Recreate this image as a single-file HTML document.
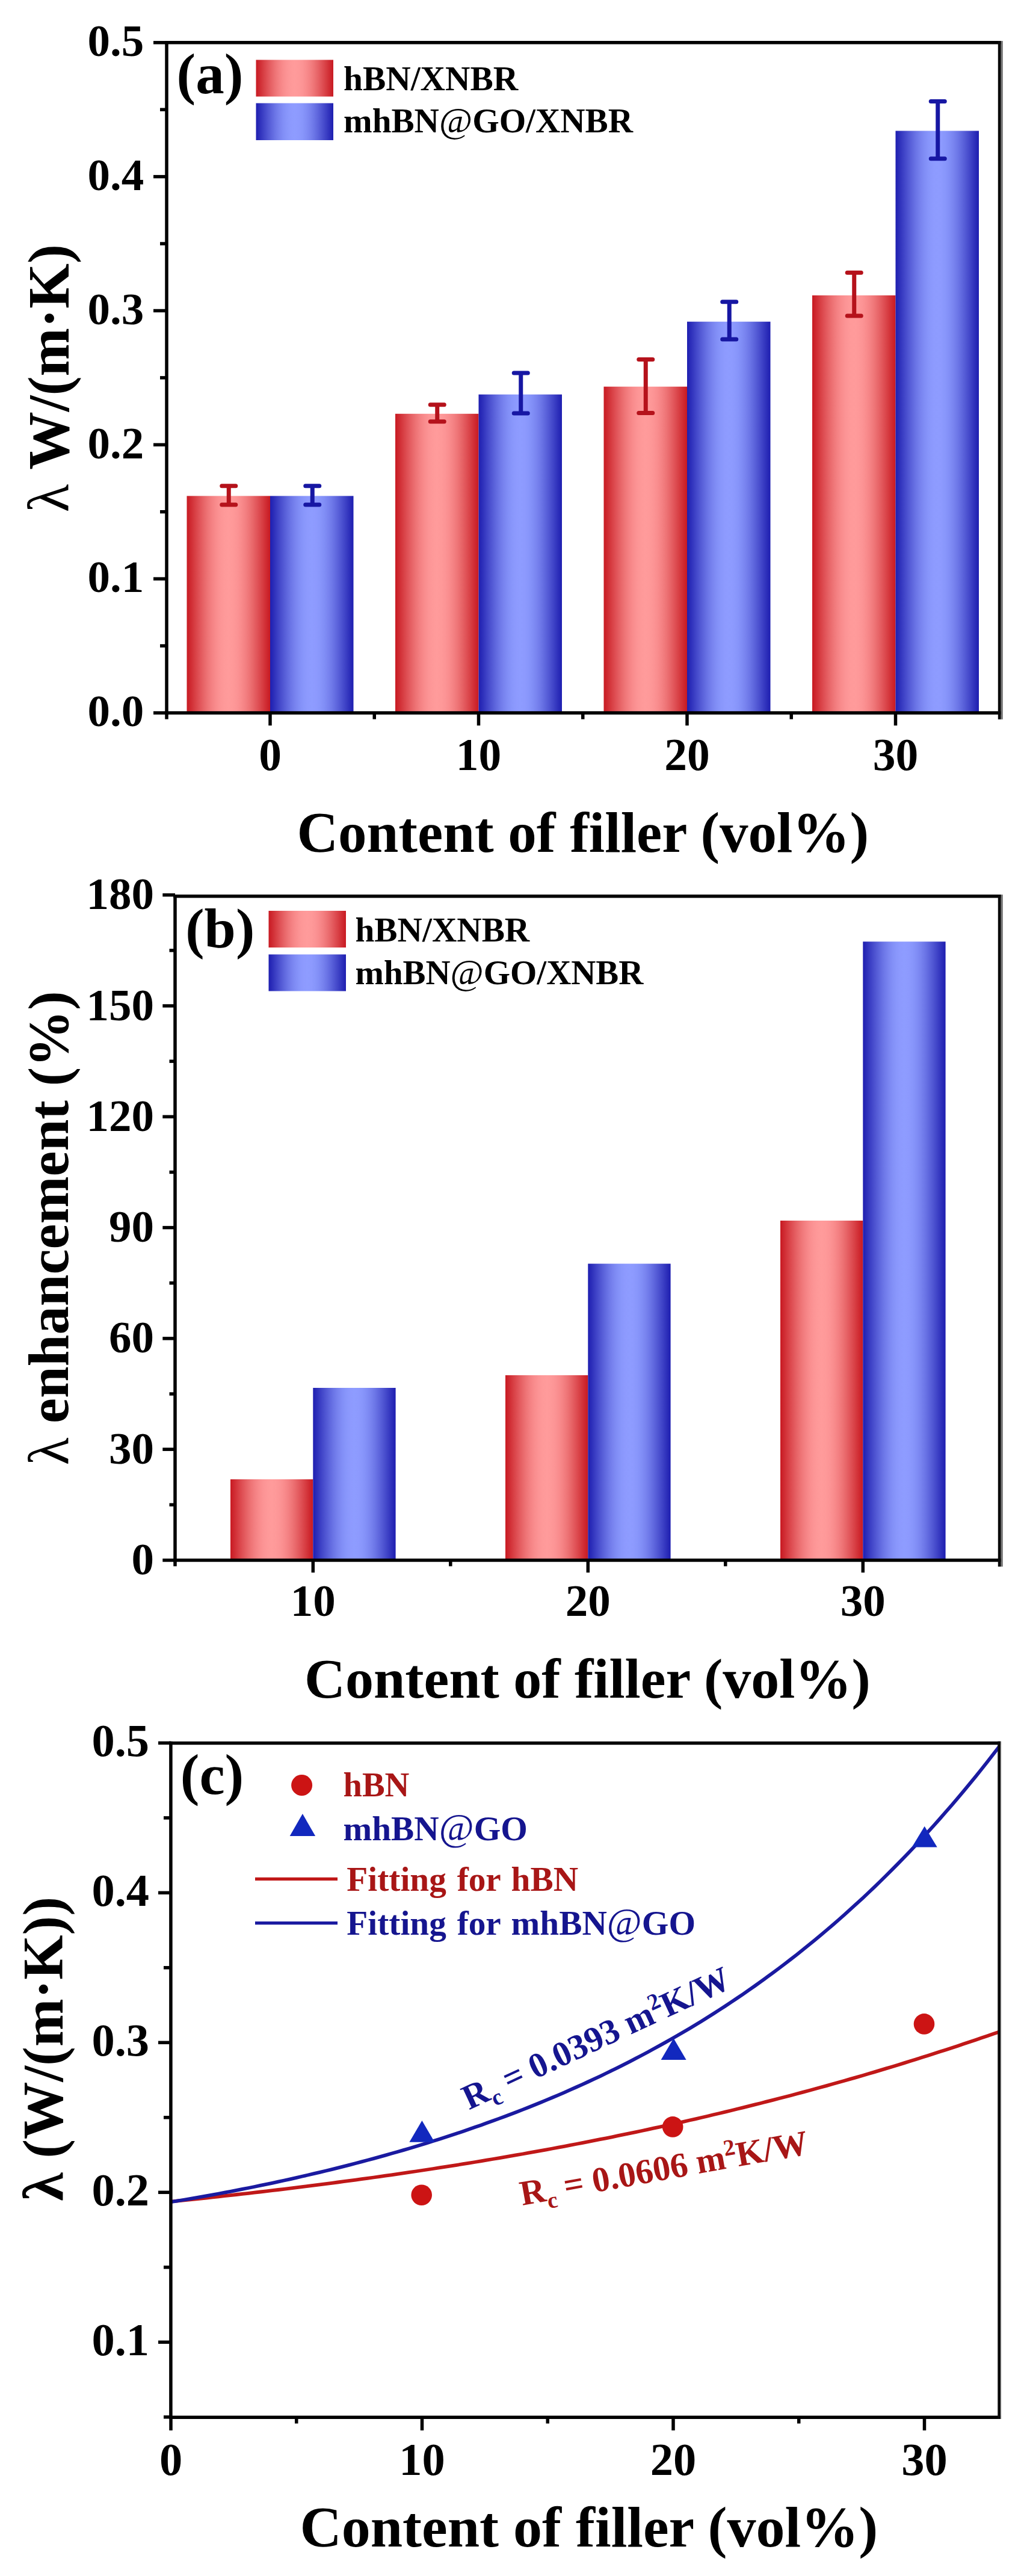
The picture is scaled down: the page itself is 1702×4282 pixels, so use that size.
<!DOCTYPE html>
<html><head><meta charset="utf-8"><title>Figure</title>
<style>html,body{margin:0;padding:0;background:#fff}svg{display:block}text{font-family:"Liberation Serif",serif;font-weight:bold}</style>
</head><body>
<svg width="1702" height="4282" viewBox="0 0 1702 4282">
<rect width="1702" height="4282" fill="#fff"/>
<defs>
<linearGradient id="gr" x1="0" x2="1" y1="0" y2="0"><stop offset="0.00" stop-color="rgb(200,26,34)"/><stop offset="0.05" stop-color="rgb(208,44,51)"/><stop offset="0.10" stop-color="rgb(216,64,69)"/><stop offset="0.15" stop-color="rgb(224,82,87)"/><stop offset="0.20" stop-color="rgb(231,100,103)"/><stop offset="0.25" stop-color="rgb(238,116,118)"/><stop offset="0.30" stop-color="rgb(244,129,131)"/><stop offset="0.35" stop-color="rgb(249,140,141)"/><stop offset="0.40" stop-color="rgb(252,148,149)"/><stop offset="0.45" stop-color="rgb(254,153,153)"/><stop offset="0.50" stop-color="rgb(255,155,155)"/><stop offset="0.55" stop-color="rgb(254,153,153)"/><stop offset="0.60" stop-color="rgb(252,148,149)"/><stop offset="0.65" stop-color="rgb(249,140,141)"/><stop offset="0.70" stop-color="rgb(244,129,131)"/><stop offset="0.75" stop-color="rgb(238,116,118)"/><stop offset="0.80" stop-color="rgb(231,100,103)"/><stop offset="0.85" stop-color="rgb(224,82,87)"/><stop offset="0.90" stop-color="rgb(216,64,69)"/><stop offset="0.95" stop-color="rgb(208,44,51)"/><stop offset="1.00" stop-color="rgb(200,26,34)"/></linearGradient>
<linearGradient id="gb" x1="0" x2="1" y1="0" y2="0"><stop offset="0.00" stop-color="rgb(30,30,176)"/><stop offset="0.05" stop-color="rgb(46,48,187)"/><stop offset="0.10" stop-color="rgb(63,67,199)"/><stop offset="0.15" stop-color="rgb(79,85,210)"/><stop offset="0.20" stop-color="rgb(94,102,221)"/><stop offset="0.25" stop-color="rgb(108,118,231)"/><stop offset="0.30" stop-color="rgb(120,131,239)"/><stop offset="0.35" stop-color="rgb(129,142,246)"/><stop offset="0.40" stop-color="rgb(136,150,251)"/><stop offset="0.45" stop-color="rgb(141,154,254)"/><stop offset="0.50" stop-color="rgb(142,156,255)"/><stop offset="0.55" stop-color="rgb(141,154,254)"/><stop offset="0.60" stop-color="rgb(136,150,251)"/><stop offset="0.65" stop-color="rgb(129,142,246)"/><stop offset="0.70" stop-color="rgb(120,131,239)"/><stop offset="0.75" stop-color="rgb(108,118,231)"/><stop offset="0.80" stop-color="rgb(94,102,221)"/><stop offset="0.85" stop-color="rgb(79,85,210)"/><stop offset="0.90" stop-color="rgb(63,67,199)"/><stop offset="0.95" stop-color="rgb(46,48,187)"/><stop offset="1.00" stop-color="rgb(30,30,176)"/></linearGradient>
</defs>
<rect x="310.5" y="824.4" width="138.5" height="360.6" fill="url(#gr)"/>
<rect x="449.0" y="824.4" width="138.5" height="360.6" fill="url(#gb)"/>
<line x1="380.25" y1="807.8" x2="380.25" y2="839.1" stroke="#b5121b" stroke-width="7" stroke-linecap="butt"/>
<line x1="368.75" y1="807.8" x2="391.75" y2="807.8" stroke="#b5121b" stroke-width="7" stroke-linecap="round"/>
<line x1="368.75" y1="839.1" x2="391.75" y2="839.1" stroke="#b5121b" stroke-width="7" stroke-linecap="round"/>
<line x1="519.25" y1="807.8" x2="519.25" y2="839.1" stroke="#1717a3" stroke-width="7" stroke-linecap="butt"/>
<line x1="507.75" y1="807.8" x2="530.75" y2="807.8" stroke="#1717a3" stroke-width="7" stroke-linecap="round"/>
<line x1="507.75" y1="839.1" x2="530.75" y2="839.1" stroke="#1717a3" stroke-width="7" stroke-linecap="round"/>
<rect x="657.0" y="687.8" width="138.5" height="497.2" fill="url(#gr)"/>
<rect x="795.5" y="655.7" width="138.5" height="529.3" fill="url(#gb)"/>
<line x1="726.75" y1="672.8" x2="726.75" y2="700.8" stroke="#b5121b" stroke-width="7" stroke-linecap="butt"/>
<line x1="715.25" y1="672.8" x2="738.25" y2="672.8" stroke="#b5121b" stroke-width="7" stroke-linecap="round"/>
<line x1="715.25" y1="700.8" x2="738.25" y2="700.8" stroke="#b5121b" stroke-width="7" stroke-linecap="round"/>
<line x1="865.75" y1="620" x2="865.75" y2="687" stroke="#1717a3" stroke-width="7" stroke-linecap="butt"/>
<line x1="854.25" y1="620" x2="877.25" y2="620" stroke="#1717a3" stroke-width="7" stroke-linecap="round"/>
<line x1="854.25" y1="687" x2="877.25" y2="687" stroke="#1717a3" stroke-width="7" stroke-linecap="round"/>
<rect x="1003.5" y="642.7" width="138.5" height="542.3" fill="url(#gr)"/>
<rect x="1142.0" y="534.7" width="138.5" height="650.3" fill="url(#gb)"/>
<line x1="1073.25" y1="597.5" x2="1073.25" y2="686.4" stroke="#b5121b" stroke-width="7" stroke-linecap="butt"/>
<line x1="1061.75" y1="597.5" x2="1084.75" y2="597.5" stroke="#b5121b" stroke-width="7" stroke-linecap="round"/>
<line x1="1061.75" y1="686.4" x2="1084.75" y2="686.4" stroke="#b5121b" stroke-width="7" stroke-linecap="round"/>
<line x1="1212.25" y1="501.8" x2="1212.25" y2="564" stroke="#1717a3" stroke-width="7" stroke-linecap="butt"/>
<line x1="1200.75" y1="501.8" x2="1223.75" y2="501.8" stroke="#1717a3" stroke-width="7" stroke-linecap="round"/>
<line x1="1200.75" y1="564" x2="1223.75" y2="564" stroke="#1717a3" stroke-width="7" stroke-linecap="round"/>
<rect x="1350.0" y="491.0" width="138.5" height="694.0" fill="url(#gr)"/>
<rect x="1488.5" y="217.5" width="138.5" height="967.5" fill="url(#gb)"/>
<line x1="1419.75" y1="453.3" x2="1419.75" y2="525" stroke="#b5121b" stroke-width="7" stroke-linecap="butt"/>
<line x1="1408.25" y1="453.3" x2="1431.25" y2="453.3" stroke="#b5121b" stroke-width="7" stroke-linecap="round"/>
<line x1="1408.25" y1="525" x2="1431.25" y2="525" stroke="#b5121b" stroke-width="7" stroke-linecap="round"/>
<line x1="1558.75" y1="168.4" x2="1558.75" y2="263.8" stroke="#1717a3" stroke-width="7" stroke-linecap="butt"/>
<line x1="1547.25" y1="168.4" x2="1570.25" y2="168.4" stroke="#1717a3" stroke-width="7" stroke-linecap="round"/>
<line x1="1547.25" y1="263.8" x2="1570.25" y2="263.8" stroke="#1717a3" stroke-width="7" stroke-linecap="round"/>
<line x1="277" y1="68.05" x2="277" y2="1187.75" stroke="#000" stroke-width="5.5" stroke-linecap="butt"/>
<line x1="274.25" y1="1185" x2="1663.8" y2="1185" stroke="#000" stroke-width="5.5" stroke-linecap="butt"/>
<line x1="274.25" y1="70.8" x2="1663.8" y2="70.8" stroke="#000" stroke-width="5.5" stroke-linecap="butt"/>
<rect x="1658.8" y="68.05" width="5" height="1127.7" fill="#0a0a0a"/>
<rect x="1663.8" y="68.05" width="3.1" height="1127.7" fill="#7a7a7a"/>
<line x1="255" y1="1185.0" x2="277" y2="1185.0" stroke="#000" stroke-width="5.5" stroke-linecap="butt"/>
<text x="239.3" y="1207.3" font-size="75" text-anchor="end" fill="#000" >0.0</text>
<line x1="266" y1="1073.58" x2="277" y2="1073.58" stroke="#000" stroke-width="5.5" stroke-linecap="butt"/>
<line x1="255" y1="962.16" x2="277" y2="962.16" stroke="#000" stroke-width="5.5" stroke-linecap="butt"/>
<text x="239.3" y="984.4599999999999" font-size="75" text-anchor="end" fill="#000" >0.1</text>
<line x1="266" y1="850.74" x2="277" y2="850.74" stroke="#000" stroke-width="5.5" stroke-linecap="butt"/>
<line x1="255" y1="739.3199999999999" x2="277" y2="739.3199999999999" stroke="#000" stroke-width="5.5" stroke-linecap="butt"/>
<text x="239.3" y="761.6199999999999" font-size="75" text-anchor="end" fill="#000" >0.2</text>
<line x1="266" y1="627.9" x2="277" y2="627.9" stroke="#000" stroke-width="5.5" stroke-linecap="butt"/>
<line x1="255" y1="516.48" x2="277" y2="516.48" stroke="#000" stroke-width="5.5" stroke-linecap="butt"/>
<text x="239.3" y="538.78" font-size="75" text-anchor="end" fill="#000" >0.3</text>
<line x1="266" y1="405.06000000000006" x2="277" y2="405.06000000000006" stroke="#000" stroke-width="5.5" stroke-linecap="butt"/>
<line x1="255" y1="293.6399999999999" x2="277" y2="293.6399999999999" stroke="#000" stroke-width="5.5" stroke-linecap="butt"/>
<text x="239.3" y="315.9399999999999" font-size="75" text-anchor="end" fill="#000" >0.4</text>
<line x1="266" y1="182.2199999999999" x2="277" y2="182.2199999999999" stroke="#000" stroke-width="5.5" stroke-linecap="butt"/>
<line x1="255" y1="70.79999999999995" x2="277" y2="70.79999999999995" stroke="#000" stroke-width="5.5" stroke-linecap="butt"/>
<text x="239.3" y="93.09999999999995" font-size="75" text-anchor="end" fill="#000" >0.5</text>
<line x1="449.0" y1="1185" x2="449.0" y2="1206" stroke="#000" stroke-width="5.5" stroke-linecap="butt"/>
<text x="449.0" y="1280.3" font-size="75.5" text-anchor="middle" fill="#000" >0</text>
<line x1="795.5" y1="1185" x2="795.5" y2="1206" stroke="#000" stroke-width="5.5" stroke-linecap="butt"/>
<text x="795.5" y="1280.3" font-size="75.5" text-anchor="middle" fill="#000" >10</text>
<line x1="1142.0" y1="1185" x2="1142.0" y2="1206" stroke="#000" stroke-width="5.5" stroke-linecap="butt"/>
<text x="1142.0" y="1280.3" font-size="75.5" text-anchor="middle" fill="#000" >20</text>
<line x1="1488.5" y1="1185" x2="1488.5" y2="1206" stroke="#000" stroke-width="5.5" stroke-linecap="butt"/>
<text x="1488.5" y="1280.3" font-size="75.5" text-anchor="middle" fill="#000" >30</text>
<line x1="277" y1="1185" x2="277" y2="1195.5" stroke="#000" stroke-width="5.5" stroke-linecap="butt"/>
<line x1="622.25" y1="1185" x2="622.25" y2="1195.5" stroke="#000" stroke-width="5.5" stroke-linecap="butt"/>
<line x1="968.75" y1="1185" x2="968.75" y2="1195.5" stroke="#000" stroke-width="5.5" stroke-linecap="butt"/>
<line x1="1315.25" y1="1185" x2="1315.25" y2="1195.5" stroke="#000" stroke-width="5.5" stroke-linecap="butt"/>
<text x="493.4" y="1416" font-size="95" text-anchor="start" fill="#000" >Content of filler (vol%)</text>
<text transform="translate(114,851.5) rotate(-90)" font-size="96.4" fill="#000"><tspan font-weight="normal">λ</tspan> W/(m·K)</text>
<text x="293.5" y="154.8" font-size="95" text-anchor="start" fill="#000" >(a)</text>
<rect x="425.5" y="99.5" width="128.5" height="61" fill="url(#gr)"/>
<rect x="425.5" y="171.5" width="128.5" height="61.5" fill="url(#gb)"/>
<text x="571" y="149.8" font-size="57.4" text-anchor="start" fill="#000" >hBN/XNBR</text>
<text x="571" y="220" font-size="57.2" text-anchor="start" fill="#000" >mhBN<tspan font-weight="normal" font-size="60">@</tspan>GO/XNBR</text>
<rect x="383.0" y="2459.0" width="137.3" height="134.4" fill="url(#gr)"/>
<rect x="520.3" y="2307.0" width="137.3" height="286.4" fill="url(#gb)"/>
<rect x="840.0" y="2286.0" width="137.3" height="307.4" fill="url(#gr)"/>
<rect x="977.3" y="2100.6" width="137.3" height="492.8" fill="url(#gb)"/>
<rect x="1297.0" y="2029.0" width="137.3" height="564.4" fill="url(#gr)"/>
<rect x="1434.3" y="1565.2" width="137.3" height="1028.2" fill="url(#gb)"/>
<line x1="291" y1="1487.05" x2="291" y2="2596.15" stroke="#000" stroke-width="5.5" stroke-linecap="butt"/>
<line x1="288.25" y1="2593.4" x2="1663.8" y2="2593.4" stroke="#000" stroke-width="5.5" stroke-linecap="butt"/>
<line x1="288.25" y1="1489.8" x2="1663.8" y2="1489.8" stroke="#000" stroke-width="5.5" stroke-linecap="butt"/>
<rect x="1658.8" y="1487.05" width="5" height="1117.1000000000001" fill="#0a0a0a"/>
<rect x="1663.8" y="1487.05" width="3.1" height="1117.1000000000001" fill="#7a7a7a"/>
<line x1="270.3" y1="2593.5" x2="291" y2="2593.5" stroke="#000" stroke-width="5.5" stroke-linecap="butt"/>
<text x="256" y="2617.0" font-size="75" text-anchor="end" fill="#000" >0</text>
<line x1="281.5" y1="2501.35" x2="291" y2="2501.35" stroke="#000" stroke-width="5.5" stroke-linecap="butt"/>
<line x1="270.3" y1="2409.2" x2="291" y2="2409.2" stroke="#000" stroke-width="5.5" stroke-linecap="butt"/>
<text x="256" y="2432.7" font-size="75" text-anchor="end" fill="#000" >30</text>
<line x1="281.5" y1="2317.05" x2="291" y2="2317.05" stroke="#000" stroke-width="5.5" stroke-linecap="butt"/>
<line x1="270.3" y1="2224.9" x2="291" y2="2224.9" stroke="#000" stroke-width="5.5" stroke-linecap="butt"/>
<text x="256" y="2248.4" font-size="75" text-anchor="end" fill="#000" >60</text>
<line x1="281.5" y1="2132.75" x2="291" y2="2132.75" stroke="#000" stroke-width="5.5" stroke-linecap="butt"/>
<line x1="270.3" y1="2040.6" x2="291" y2="2040.6" stroke="#000" stroke-width="5.5" stroke-linecap="butt"/>
<text x="256" y="2064.1" font-size="75" text-anchor="end" fill="#000" >90</text>
<line x1="281.5" y1="1948.4499999999998" x2="291" y2="1948.4499999999998" stroke="#000" stroke-width="5.5" stroke-linecap="butt"/>
<line x1="270.3" y1="1856.3" x2="291" y2="1856.3" stroke="#000" stroke-width="5.5" stroke-linecap="butt"/>
<text x="256" y="1879.8" font-size="75" text-anchor="end" fill="#000" >120</text>
<line x1="281.5" y1="1764.15" x2="291" y2="1764.15" stroke="#000" stroke-width="5.5" stroke-linecap="butt"/>
<line x1="270.3" y1="1672.0" x2="291" y2="1672.0" stroke="#000" stroke-width="5.5" stroke-linecap="butt"/>
<text x="256" y="1695.5" font-size="75" text-anchor="end" fill="#000" >150</text>
<line x1="281.5" y1="1579.85" x2="291" y2="1579.85" stroke="#000" stroke-width="5.5" stroke-linecap="butt"/>
<line x1="270.3" y1="1487.7" x2="291" y2="1487.7" stroke="#000" stroke-width="5.5" stroke-linecap="butt"/>
<text x="256" y="1511.2" font-size="75" text-anchor="end" fill="#000" >180</text>
<line x1="520.3" y1="2593.4" x2="520.3" y2="2614" stroke="#000" stroke-width="5.5" stroke-linecap="butt"/>
<text x="520.3" y="2685.5" font-size="75" text-anchor="middle" fill="#000" >10</text>
<line x1="977.3" y1="2593.4" x2="977.3" y2="2614" stroke="#000" stroke-width="5.5" stroke-linecap="butt"/>
<text x="977.3" y="2685.5" font-size="75" text-anchor="middle" fill="#000" >20</text>
<line x1="1434.3" y1="2593.4" x2="1434.3" y2="2614" stroke="#000" stroke-width="5.5" stroke-linecap="butt"/>
<text x="1434.3" y="2685.5" font-size="75" text-anchor="middle" fill="#000" >30</text>
<line x1="291" y1="2593.4" x2="291" y2="2603.5" stroke="#000" stroke-width="5.5" stroke-linecap="butt"/>
<line x1="748.8" y1="2593.4" x2="748.8" y2="2603.5" stroke="#000" stroke-width="5.5" stroke-linecap="butt"/>
<line x1="1205.8" y1="2593.4" x2="1205.8" y2="2603.5" stroke="#000" stroke-width="5.5" stroke-linecap="butt"/>
<text x="506" y="2822.3" font-size="94" text-anchor="start" fill="#000" >Content of filler (vol%)</text>
<text transform="translate(112.5,2435.6) rotate(-90)" font-size="94.75" fill="#000"><tspan font-weight="normal">λ</tspan> enhancement (%)</text>
<text x="308.3" y="1575.3" font-size="94" text-anchor="start" fill="#000" >(b)</text>
<rect x="446.5" y="1514" width="128.5" height="61" fill="url(#gr)"/>
<rect x="446.5" y="1586.5" width="128.5" height="61" fill="url(#gb)"/>
<text x="590.5" y="1565.4" font-size="57.3" text-anchor="start" fill="#000" >hBN/XNBR</text>
<text x="590.5" y="1636" font-size="56.9" text-anchor="start" fill="#000" >mhBN<tspan font-weight="normal" font-size="60">@</tspan>GO/XNBR</text>
<path d="M284.0,3659.7 L293.9,3658.7 L303.8,3657.6 L313.7,3656.6 L323.6,3655.6 L333.5,3654.5 L343.4,3653.5 L353.3,3652.4 L363.3,3651.3 L373.2,3650.2 L383.1,3649.1 L393.0,3648.0 L402.9,3646.9 L412.8,3645.8 L422.7,3644.7 L432.6,3643.5 L442.5,3642.4 L452.4,3641.2 L462.3,3640.0 L472.2,3638.8 L482.1,3637.6 L492.0,3636.4 L501.9,3635.2 L511.8,3633.9 L521.8,3632.7 L531.7,3631.4 L541.6,3630.1 L551.5,3628.8 L561.4,3627.5 L571.3,3626.2 L581.2,3624.9 L591.1,3623.6 L601.0,3622.2 L610.9,3620.9 L620.8,3619.5 L630.7,3618.1 L640.6,3616.7 L650.5,3615.3 L660.4,3613.8 L670.4,3612.4 L680.3,3610.9 L690.2,3609.5 L700.1,3608.0 L710.0,3606.5 L719.9,3605.0 L729.8,3603.4 L739.7,3601.9 L749.6,3600.3 L759.5,3598.8 L769.4,3597.2 L779.3,3595.6 L789.2,3594.0 L799.1,3592.3 L809.0,3590.7 L818.9,3589.0 L828.9,3587.3 L838.8,3585.6 L848.7,3583.9 L858.6,3582.2 L868.5,3580.5 L878.4,3578.7 L888.3,3576.9 L898.2,3575.1 L908.1,3573.3 L918.0,3571.5 L927.9,3569.6 L937.8,3567.8 L947.7,3565.9 L957.6,3564.0 L967.5,3562.1 L977.5,3560.2 L987.4,3558.2 L997.3,3556.2 L1007.2,3554.3 L1017.1,3552.3 L1027.0,3550.2 L1036.9,3548.2 L1046.8,3546.1 L1056.7,3544.1 L1066.6,3542.0 L1076.5,3539.9 L1086.4,3537.7 L1096.3,3535.6 L1106.2,3533.4 L1116.1,3531.2 L1126.1,3529.0 L1136.0,3526.8 L1145.9,3524.5 L1155.8,3522.3 L1165.7,3520.0 L1175.6,3517.7 L1185.5,3515.3 L1195.4,3513.0 L1205.3,3510.6 L1215.2,3508.2 L1225.1,3505.8 L1235.0,3503.4 L1244.9,3500.9 L1254.8,3498.4 L1264.7,3496.0 L1274.6,3493.4 L1284.6,3490.9 L1294.5,3488.3 L1304.4,3485.8 L1314.3,3483.2 L1324.2,3480.5 L1334.1,3477.9 L1344.0,3475.2 L1353.9,3472.5 L1363.8,3469.8 L1373.7,3467.1 L1383.6,3464.3 L1393.5,3461.5 L1403.4,3458.7 L1413.3,3455.9 L1423.2,3453.1 L1433.2,3450.2 L1443.1,3447.3 L1453.0,3444.4 L1462.9,3441.4 L1472.8,3438.4 L1482.7,3435.5 L1492.6,3432.4 L1502.5,3429.4 L1512.4,3426.3 L1522.3,3423.2 L1532.2,3420.1 L1542.1,3417.0 L1552.0,3413.8 L1561.9,3410.6 L1571.8,3407.4 L1581.7,3404.2 L1591.7,3400.9 L1601.6,3397.6 L1611.5,3394.3 L1621.4,3391.0 L1631.3,3387.6 L1641.2,3384.2 L1651.1,3380.8 L1661.0,3377.4" fill="none" stroke="#c01818" stroke-width="5.8"/>
<path d="M284.0,3660.2 L293.9,3658.6 L303.8,3657.0 L313.7,3655.3 L323.6,3653.6 L333.5,3651.9 L343.4,3650.1 L353.3,3648.3 L363.3,3646.5 L373.2,3644.7 L383.1,3642.8 L393.0,3640.9 L402.9,3638.9 L412.8,3637.0 L422.7,3635.0 L432.6,3632.9 L442.5,3630.9 L452.4,3628.8 L462.3,3626.7 L472.2,3624.5 L482.1,3622.3 L492.0,3620.1 L501.9,3617.8 L511.8,3615.5 L521.8,3613.2 L531.7,3610.9 L541.6,3608.5 L551.5,3606.1 L561.4,3603.6 L571.3,3601.1 L581.2,3598.6 L591.1,3596.0 L601.0,3593.4 L610.9,3590.8 L620.8,3588.1 L630.7,3585.4 L640.6,3582.6 L650.5,3579.8 L660.4,3577.0 L670.4,3574.1 L680.3,3571.2 L690.2,3568.2 L700.1,3565.2 L710.0,3562.2 L719.9,3559.1 L729.8,3555.9 L739.7,3552.8 L749.6,3549.5 L759.5,3546.3 L769.4,3542.9 L779.3,3539.6 L789.2,3536.1 L799.1,3532.7 L809.0,3529.1 L818.9,3525.6 L828.9,3521.9 L838.8,3518.3 L848.7,3514.5 L858.6,3510.7 L868.5,3506.9 L878.4,3503.0 L888.3,3499.0 L898.2,3495.0 L908.1,3490.9 L918.0,3486.8 L927.9,3482.6 L937.8,3478.3 L947.7,3473.9 L957.6,3469.5 L967.5,3465.1 L977.5,3460.5 L987.4,3455.9 L997.3,3451.3 L1007.2,3446.5 L1017.1,3441.7 L1027.0,3436.8 L1036.9,3431.8 L1046.8,3426.8 L1056.7,3421.7 L1066.6,3416.5 L1076.5,3411.2 L1086.4,3405.8 L1096.3,3400.4 L1106.2,3394.9 L1116.1,3389.3 L1126.1,3383.6 L1136.0,3377.8 L1145.9,3371.9 L1155.8,3365.9 L1165.7,3359.9 L1175.6,3353.7 L1185.5,3347.5 L1195.4,3341.1 L1205.3,3334.7 L1215.2,3328.1 L1225.1,3321.5 L1235.0,3314.8 L1244.9,3307.9 L1254.8,3301.0 L1264.7,3293.9 L1274.6,3286.7 L1284.6,3279.4 L1294.5,3272.0 L1304.4,3264.5 L1314.3,3256.9 L1324.2,3249.2 L1334.1,3241.3 L1344.0,3233.3 L1353.9,3225.2 L1363.8,3217.0 L1373.7,3208.6 L1383.6,3200.2 L1393.5,3191.6 L1403.4,3182.8 L1413.3,3173.9 L1423.2,3164.9 L1433.2,3155.8 L1443.1,3146.5 L1453.0,3137.1 L1462.9,3127.5 L1472.8,3117.8 L1482.7,3107.9 L1492.6,3097.9 L1502.5,3087.7 L1512.4,3077.4 L1522.3,3067.0 L1532.2,3056.3 L1542.1,3045.5 L1552.0,3034.6 L1561.9,3023.5 L1571.8,3012.2 L1581.7,3000.8 L1591.7,2989.2 L1601.6,2977.4 L1611.5,2965.4 L1621.4,2953.3 L1631.3,2941.0 L1641.2,2928.5 L1651.1,2915.8 L1661.0,2903.0" fill="none" stroke="#1a1aa0" stroke-width="5.8"/>
<circle cx="700.7" cy="3648.7" r="17.3" fill="#cc1414"/>
<circle cx="1118.2" cy="3535.4" r="17.3" fill="#cc1414"/>
<circle cx="1536" cy="3364.4" r="17.3" fill="#cc1414"/>
<polygon points="701.4,3525 680.4,3560.8 722.4,3560.8" fill="#1228be"/>
<polygon points="1119.6,3388.3 1098.6,3424 1140.6,3424" fill="#1228be"/>
<polygon points="1536.7,3035.8 1515.7,3070.5 1557.7,3070.5" fill="#1228be"/>
<line x1="283.9" y1="2894.65" x2="283.9" y2="4020.95" stroke="#000" stroke-width="5.5" stroke-linecap="butt"/>
<line x1="281.15" y1="4018.2" x2="1663.3" y2="4018.2" stroke="#000" stroke-width="5.5" stroke-linecap="butt"/>
<line x1="281.15" y1="2897.4" x2="1663.3" y2="2897.4" stroke="#000" stroke-width="5.5" stroke-linecap="butt"/>
<rect x="1658.3" y="2894.65" width="5" height="1126.2999999999997" fill="#0a0a0a"/>
<rect x="1663.3" y="2894.65" width="1.2" height="1126.2999999999997" fill="#bbb"/>
<line x1="263" y1="3893.3" x2="283.9" y2="3893.3" stroke="#000" stroke-width="5.5" stroke-linecap="butt"/>
<text x="248" y="3915.3" font-size="76.5" text-anchor="end" fill="#000" >0.1</text>
<line x1="272" y1="4017.8" x2="283.9" y2="4017.8" stroke="#000" stroke-width="5.5" stroke-linecap="butt"/>
<line x1="263" y1="3644.3" x2="283.9" y2="3644.3" stroke="#000" stroke-width="5.5" stroke-linecap="butt"/>
<text x="248" y="3666.3" font-size="76.5" text-anchor="end" fill="#000" >0.2</text>
<line x1="272" y1="3768.8" x2="283.9" y2="3768.8" stroke="#000" stroke-width="5.5" stroke-linecap="butt"/>
<line x1="263" y1="3395.3" x2="283.9" y2="3395.3" stroke="#000" stroke-width="5.5" stroke-linecap="butt"/>
<text x="248" y="3417.3" font-size="76.5" text-anchor="end" fill="#000" >0.3</text>
<line x1="272" y1="3519.8" x2="283.9" y2="3519.8" stroke="#000" stroke-width="5.5" stroke-linecap="butt"/>
<line x1="263" y1="3146.3" x2="283.9" y2="3146.3" stroke="#000" stroke-width="5.5" stroke-linecap="butt"/>
<text x="248" y="3168.3" font-size="76.5" text-anchor="end" fill="#000" >0.4</text>
<line x1="272" y1="3270.8" x2="283.9" y2="3270.8" stroke="#000" stroke-width="5.5" stroke-linecap="butt"/>
<line x1="263" y1="2897.3" x2="283.9" y2="2897.3" stroke="#000" stroke-width="5.5" stroke-linecap="butt"/>
<text x="248" y="2919.3" font-size="76.5" text-anchor="end" fill="#000" >0.5</text>
<line x1="272" y1="3021.8" x2="283.9" y2="3021.8" stroke="#000" stroke-width="5.5" stroke-linecap="butt"/>
<line x1="284.0" y1="4018.2" x2="284.0" y2="4040" stroke="#000" stroke-width="5.5" stroke-linecap="butt"/>
<text x="284.0" y="4113.8" font-size="76.5" text-anchor="middle" fill="#000" >0</text>
<line x1="701.5" y1="4018.2" x2="701.5" y2="4040" stroke="#000" stroke-width="5.5" stroke-linecap="butt"/>
<text x="701.5" y="4113.8" font-size="76.5" text-anchor="middle" fill="#000" >10</text>
<line x1="1119.0" y1="4018.2" x2="1119.0" y2="4040" stroke="#000" stroke-width="5.5" stroke-linecap="butt"/>
<text x="1119.0" y="4113.8" font-size="76.5" text-anchor="middle" fill="#000" >20</text>
<line x1="1536.5" y1="4018.2" x2="1536.5" y2="4040" stroke="#000" stroke-width="5.5" stroke-linecap="butt"/>
<text x="1536.5" y="4113.8" font-size="76.5" text-anchor="middle" fill="#000" >30</text>
<line x1="492.75" y1="4018.2" x2="492.75" y2="4028.5" stroke="#000" stroke-width="5.5" stroke-linecap="butt"/>
<line x1="910.25" y1="4018.2" x2="910.25" y2="4028.5" stroke="#000" stroke-width="5.5" stroke-linecap="butt"/>
<line x1="1327.75" y1="4018.2" x2="1327.75" y2="4028.5" stroke="#000" stroke-width="5.5" stroke-linecap="butt"/>
<text x="498.4" y="4233" font-size="96" text-anchor="start" fill="#000" >Content of filler (vol%)</text>
<text transform="translate(103.5,3658.5) rotate(-90)" font-size="95.5" fill="#000">λ (W/(m·K))</text>
<text x="299.8" y="2982" font-size="95" text-anchor="start" fill="#000" >(c)</text>
<circle cx="501.6" cy="2967.5" r="17.5" fill="#cc1414"/>
<polygon points="502.9,3015 481.65,3052 524.15,3052" fill="#1228be"/>
<line x1="424" y1="3123.3" x2="561" y2="3123.3" stroke="#c01818" stroke-width="5.2" stroke-linecap="butt"/>
<line x1="424" y1="3196.6" x2="561" y2="3196.6" stroke="#1a1aa0" stroke-width="5.2" stroke-linecap="butt"/>
<text x="570.5" y="2985.6" font-size="56.5" text-anchor="start" fill="#a81616" >hBN</text>
<text x="570.5" y="3058.8" font-size="57.3" text-anchor="start" fill="#15158f" >mhBN<tspan font-weight="normal" font-size="63">@</tspan>GO</text>
<text x="576.3" y="3143.2" font-size="57.3" text-anchor="start" fill="#a81616" word-spacing="3.5">Fitting for hBN</text>
<text x="576.3" y="3215.8" font-size="57.3" text-anchor="start" fill="#15158f" word-spacing="3.5">Fitting for mhBN<tspan font-weight="normal" font-size="63">@</tspan>GO</text>
<text transform="translate(779.5,3507.5) rotate(-25)" font-size="58.3" fill="#15158f">R<tspan font-size="38" dy="13">c</tspan><tspan dy="-13"> </tspan>= 0.0393 m<tspan font-size="38" dy="-21">2</tspan><tspan dy="21">K/W</tspan></text>
<text transform="translate(868,3666) rotate(-10.2)" font-size="58.5" fill="#a81616">R<tspan font-size="38" dy="13">c</tspan><tspan dy="-13"> </tspan>= 0.0606 m<tspan font-size="38" dy="-21">2</tspan><tspan dy="21">K/W</tspan></text>
</svg>
</body></html>
